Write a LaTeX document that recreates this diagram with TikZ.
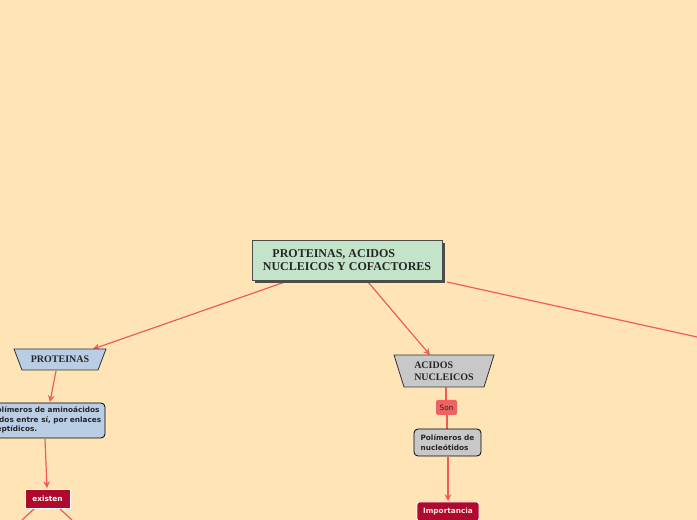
\documentclass[tikz,border=0pt]{standalone}
\usepackage{fontspec}
\setmainfont{Liberation Serif}
\newfontfamily\sansb{DejaVu Sans}
\usetikzlibrary{arrows.meta}
\definecolor{bg}{HTML}{FFE5B5}
\definecolor{ln}{HTML}{F05A5A}
\definecolor{mainf}{HTML}{C4E4CA}
\definecolor{bluef}{HTML}{B9CDE5}
\definecolor{grayf}{HTML}{C8C8C8}
\definecolor{redf}{HTML}{B0092E}
\definecolor{sonf}{HTML}{F06262}
\tikzset{
 conn/.style={draw=ln,line width=0.9pt},
 arr/.style={conn,-{Stealth[length=5pt,width=5pt]}},
 ttl/.style={font=\bfseries\fontsize{9}{10}\selectfont,text=black!85},
 small/.style={font=\sansb\bfseries\fontsize{5.5}{7}\selectfont,text=black!85},
}
\begin{document}
\begin{tikzpicture}[x=0.75pt,y=-0.75pt]
\useasboundingbox (0,0) rectangle (697,520);
\fill[bg] (0,0) rectangle (697,520);
% connectors
\coordinate (m1) at (285,282);
\coordinate (m2) at (368,282);
\coordinate (m3) at (447,282);
\coordinate (pt) at (60,349);
\coordinate (ant) at (430,355);
\coordinate (off) at (697,337);
\draw[arr] (m1) -- (93,349);
\draw[arr] (m2) -- (ant);
\draw[conn] (m3) -- (off);
% main
\fill[black!70] (255,243) rectangle (445,283);
\draw[fill=mainf,draw=black!70] (252,240) rectangle (442,280);
\node[ttl,align=left] (main) at (347,260) {\hspace*{0.8em}PROTEINAS, ACIDOS\\NUCLEICOS Y COFACTORES};
% PROTEINAS
\draw[fill=bluef,draw=black!80,line width=0.6pt] (14,349) -- (106,349) -- (98,370) -- (22,370) -- cycle;
\node[ttl,font=\bfseries\fontsize{7.5}{9}\selectfont] (prot) at (60,359.5) {PROTEINAS};
\draw[arr] (56,371) -- (50,402);
\draw[fill=bluef,draw=black,rounded corners=3pt,line width=0.6pt] (-5,403) rectangle (105,438);
\node[small,align=left,anchor=west] (pol) at (-8,420) {olímeros de aminoácidos\\idos entre sí, por enlaces\\eptídicos.};
\draw[arr] (45,439) -- (47,488);
\draw[fill=redf,draw=white,line width=0.5pt] (25,489) rectangle (70,508);
\node[small,text=white] (ex) at (47.5,498.5) {existen};
\coordinate (e1) at (22,520);
\coordinate (e2) at (72,520);
\draw[conn] (34,509) -- (e1);
\draw[conn] (60,509) -- (e2);
% ACIDOS NUCLEICOS
\draw[fill=grayf,draw=black!80,line width=0.6pt] (394,355) -- (494,355) -- (484,387) -- (404,387) -- cycle;
\node[ttl,font=\bfseries\fontsize{7.5}{9}\selectfont,align=left] (an) at (444,371) {ACIDOS\\NUCLEICOS};
\draw[conn] (446,387) -- (446,400);
\draw[fill=sonf,draw=none,rounded corners=1.5pt] (436,400) rectangle (457,415);
\node[small,font=\sansb\fontsize{5.5}{7}\selectfont] (son) at (446.5,407.5) {Son};
\draw[conn] (447,415) -- (447,429);
\draw[fill=grayf,draw=black,rounded corners=3pt,line width=0.6pt] (414,429) rectangle (481,456);
\node[small,align=left] (pn) at (447.5,442.5) {Polímeros de\\nucleótidos};
\draw[arr] (448,457) -- (448,501);
\draw[fill=redf,draw=white,rounded corners=2pt,line width=0.5pt] (417,502) rectangle (479,521);
\node[small,text=white!90!red] (imp) at (448,511) {Importancia};
\end{tikzpicture}
\end{document}
